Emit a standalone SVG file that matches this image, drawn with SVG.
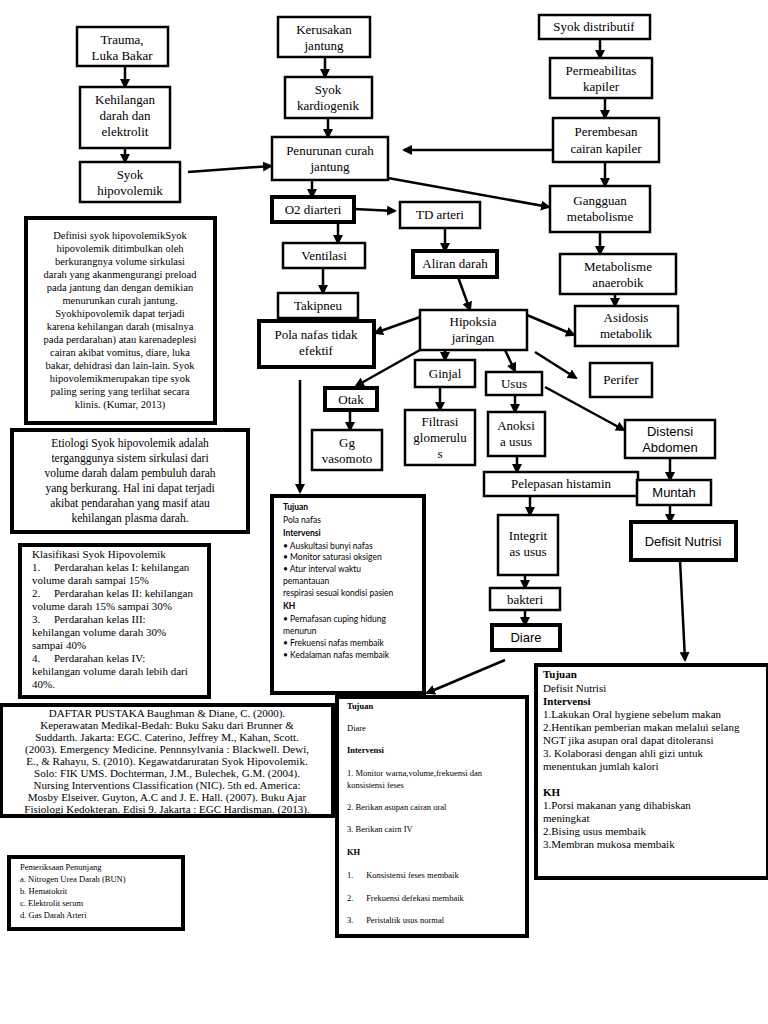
<svg xmlns="http://www.w3.org/2000/svg" width="768" height="1024" viewBox="0 0 768 1024">
<style>
.b{fill:#fff;stroke:#000;stroke-width:2.5}
.bb{fill:#fff;stroke:#000;stroke-width:4}
.t{font-family:"Liberation Serif",serif;font-size:13px;fill:#000;text-anchor:middle}
.s{font-family:"Liberation Sans",sans-serif;font-size:13px;fill:#000;text-anchor:middle}
.sm{font-family:"Liberation Serif",serif;font-size:10.5px;fill:#000;text-anchor:middle}
.l{font-family:"Liberation Serif",serif;font-size:11.5px;fill:#000;white-space:pre}
.c{font-family:Lato,sans-serif;font-size:8.5px;fill:#000}
.d{font-family:"Liberation Serif",serif;font-size:8.5px;fill:#000;white-space:pre}
.k{stroke:#000;stroke-width:2.5;fill:none;marker-end:url(#a)}
</style>
<defs><marker id="a" viewBox="0 0 10 10" refX="8" refY="5" markerWidth="4" markerHeight="4" orient="auto"><path d="M0,0L10,5L0,10z"/></marker>
<clipPath id="cp"><rect x="3" y="707" width="328" height="107"/></clipPath></defs>
<rect width="768" height="1024" fill="#fff"/>
<g id="connectors">
<line class="k" x1="125" y1="66" x2="125" y2="87"/>
<line class="k" x1="125" y1="148" x2="125" y2="162"/>
<line class="k" x1="188" y1="172" x2="271" y2="166"/>
<line class="k" x1="325" y1="57" x2="325" y2="77"/>
<line class="k" x1="328" y1="118" x2="328" y2="137"/>
<line class="k" x1="553" y1="150" x2="404" y2="150"/>
<line class="k" x1="600" y1="39" x2="600" y2="58"/>
<line class="k" x1="605" y1="98" x2="605" y2="118"/>
<line class="k" x1="388" y1="178" x2="549" y2="207"/>
<line class="k" x1="605" y1="162" x2="605" y2="186"/>
<line class="k" x1="600" y1="232" x2="600" y2="254"/>
<line class="k" x1="615" y1="294" x2="615" y2="306"/>
<line class="k" x1="312" y1="180" x2="312" y2="197"/>
<line class="k" x1="354" y1="209" x2="395" y2="211"/>
<line class="k" x1="338" y1="222" x2="338" y2="243"/>
<line class="k" x1="445" y1="228" x2="445" y2="251"/>
<line class="k" x1="323" y1="268" x2="323" y2="293"/>
<line class="k" x1="458" y1="277" x2="470" y2="310"/>
<line class="k" x1="420" y1="317" x2="375" y2="333"/>
<line class="k" x1="527" y1="315" x2="574" y2="335"/>
<line class="k" x1="445" y1="350" x2="445" y2="360"/>
<line class="k" x1="420" y1="350" x2="356" y2="386"/>
<line class="k" x1="505" y1="350" x2="515" y2="371"/>
<line class="k" x1="535" y1="352" x2="576" y2="378"/>
<line class="k" x1="545" y1="387" x2="624" y2="430"/>
<line class="k" x1="350" y1="410" x2="350" y2="430"/>
<line class="k" x1="440" y1="387" x2="440" y2="410"/>
<line class="k" x1="515" y1="395" x2="515" y2="412"/>
<line class="k" x1="517" y1="456" x2="517" y2="472"/>
<line class="k" x1="530" y1="496" x2="530" y2="515"/>
<line class="k" x1="525" y1="575" x2="525" y2="588"/>
<line class="k" x1="525" y1="610" x2="525" y2="625"/>
<line class="k" x1="505" y1="660" x2="427" y2="693"/>
<line class="k" x1="670" y1="458" x2="670" y2="480"/>
<line class="k" x1="670" y1="505" x2="670" y2="522"/>
<line class="k" x1="680" y1="560" x2="685" y2="660"/>
<line class="k" x1="300" y1="380" x2="300" y2="492"/>
</g>
<g id="trauma"><rect class="b" x="77" y="27" width="91" height="39"/><text class="t" x="122" y="44">Trauma,</text><text class="t" x="122" y="60">Luka Bakar</text></g>
<g id="kehilangan"><rect class="b" x="80" y="87" width="90" height="61"/><text class="t" x="125" y="104">Kehilangan</text><text class="t" x="125" y="120">darah dan</text><text class="t" x="125" y="136">elektrolit</text></g>
<g id="syokhipo"><rect class="b" x="80" y="162" width="100" height="40"/><text class="t" x="130" y="179">Syok</text><text class="t" x="130" y="195">hipovolemik</text></g>
<g id="kerusakan"><rect class="b" x="278" y="17" width="92" height="40"/><text class="t" x="324" y="34">Kerusakan</text><text class="t" x="324" y="50">jantung</text></g>
<g id="syokkardio"><rect class="b" x="285" y="77" width="87" height="41"/><text class="t" x="328" y="94">Syok</text><text class="t" x="328" y="110">kardiogenik</text></g>
<g id="penurunan"><rect class="b" x="272" y="137" width="116" height="43"/><text class="t" x="330" y="155">Penurunan curah</text><text class="t" x="330" y="171">jantung</text></g>
<g id="o2"><rect class="bb" x="272" y="197" width="82" height="25"/><text class="t" x="313" y="214">O2 diarteri</text></g>
<g id="td"><rect class="b" x="400" y="202" width="80" height="26"/><text class="t" x="440" y="219">TD arteri</text></g>
<g id="ventilasi"><rect class="b" x="283" y="243" width="82" height="25"/><text class="t" x="324" y="260">Ventilasi</text></g>
<g id="aliran"><rect class="bb" x="413" y="251" width="84" height="26"/><text class="t" x="455" y="268">Aliran darah</text></g>
<g id="takipneu"><rect class="b" x="278" y="293" width="80" height="25"/><text class="t" x="318" y="310">Takipneu</text></g>
<g id="pola"><rect class="bb" x="259" y="321" width="115" height="46"/><text class="t" x="316" y="339">Pola nafas tidak</text><text class="t" x="316" y="355">efektif</text></g>
<g id="hipoksia"><rect class="b" x="420" y="310" width="107" height="40"/><text class="t" x="473" y="326">Hipoksia</text><text class="t" x="473" y="342">jaringan</text></g>
<g id="ginjal"><rect class="b" x="415" y="360" width="60" height="27"/><text class="t" x="445" y="378">Ginjal</text></g>
<g id="usus"><rect class="b" x="486" y="372" width="56" height="23"/><text class="t" x="514" y="388">Usus</text></g>
<g id="perifer"><rect class="b" x="590" y="363" width="62" height="34"/><text class="t" x="621" y="384">Perifer</text></g>
<g id="otak"><rect class="bb" x="325" y="388" width="52" height="22"/><text class="t" x="351" y="404">Otak</text></g>
<g id="gg"><rect class="b" x="312" y="430" width="70" height="40"/><text class="t" x="347" y="447">Gg</text><text class="t" x="347" y="463">vasomoto</text></g>
<g id="filtrasi"><rect class="b" x="405" y="410" width="70" height="55"/><text class="t" x="440" y="426">Filtrasi</text><text class="t" x="440" y="442">glomerulu</text><text class="t" x="440" y="458">s</text></g>
<g id="anoksia"><rect class="b" x="488" y="412" width="57" height="44"/><text class="t" x="516" y="430">Anoksi</text><text class="t" x="516" y="446">a usus</text></g>
<g id="histamin"><rect class="b" x="484" y="472" width="154" height="24"/><text class="t" x="561" y="488">Pelepasan histamin</text></g>
<g id="integritas"><rect class="b" x="498" y="515" width="60" height="60"/><text class="t" x="528" y="540">Integrit</text><text class="t" x="528" y="556">as usus</text></g>
<g id="bakteri"><rect class="b" x="490" y="588" width="70" height="22"/><text class="t" x="525" y="604">bakteri</text></g>
<g id="diare"><rect class="bb" x="492" y="625" width="68" height="25"/><text class="s" x="526" y="642">Diare</text></g>
<g id="syokdist"><rect class="b" x="539" y="15" width="111" height="24"/><text class="t" x="594" y="31">Syok distributif</text></g>
<g id="permeabilitas"><rect class="b" x="550" y="58" width="102" height="40"/><text class="t" x="601" y="75">Permeabilitas</text><text class="t" x="601" y="91">kapiler</text></g>
<g id="perembesan"><rect class="b" x="553" y="118" width="106" height="44"/><text class="t" x="606" y="136">Perembesan</text><text class="t" x="606" y="153">cairan kapiler</text></g>
<g id="gangguan"><rect class="b" x="550" y="186" width="100" height="46"/><text class="t" x="600" y="205">Gangguan</text><text class="t" x="600" y="221">metabolisme</text></g>
<g id="metabolisme"><rect class="b" x="560" y="254" width="116" height="40"/><text class="t" x="618" y="271">Metabolisme</text><text class="t" x="618" y="287">anaerobik</text></g>
<g id="asidosis"><rect class="b" x="575" y="306" width="103" height="40"/><text class="t" x="626" y="322">Asidosis</text><text class="t" x="626" y="338">metabolik</text></g>
<g id="distensi"><rect class="b" x="625" y="420" width="90" height="38"/><text class="s" x="670" y="436">Distensi</text><text class="s" x="670" y="452">Abdomen</text></g>
<g id="muntah"><rect class="b" x="637" y="480" width="74" height="25"/><text class="s" x="674" y="497">Muntah</text></g>
<g id="defisit"><rect class="bb" x="631" y="522" width="105" height="38"/><text class="s" x="683" y="546">Defisit Nutrisi</text></g>
<g id="definisi"><rect class="bb" x="26" y="218" width="189" height="205"/>
<text class="sm"><tspan x="120" y="239">Definisi syok hipovolemikSyok</tspan><tspan x="120" y="252">hipovolemik ditimbulkan oleh</tspan><tspan x="120" y="265">berkurangnya volume sirkulasi</tspan><tspan x="120" y="278">darah yang akanmengurangi preload</tspan><tspan x="120" y="291">pada jantung dan dengan demikian</tspan><tspan x="120" y="304">menurunkan curah jantung.</tspan><tspan x="120" y="317">Syokhipovolemik dapat terjadi</tspan><tspan x="120" y="330">karena kehilangan darah (misalnya</tspan><tspan x="120" y="343">pada perdarahan) atau karenadeplesi</tspan><tspan x="120" y="356">cairan akibat vomitus, diare, luka</tspan><tspan x="120" y="369">bakar, dehidrasi dan lain-lain. Syok</tspan><tspan x="120" y="382">hipovolemikmerupakan tipe syok</tspan><tspan x="120" y="395">paling sering yang terlihat secara</tspan><tspan x="120" y="408">klinis. (Kumar, 2013)</tspan></text></g>
<g id="etiologi"><rect class="bb" x="12" y="430" width="236" height="102"/>
<text class="t" style="font-size:11.5px"><tspan x="130" y="447">Etiologi Syok hipovolemik adalah</tspan><tspan x="130" y="462">terganggunya sistem sirkulasi dari</tspan><tspan x="130" y="477">volume darah dalam pembuluh darah</tspan><tspan x="130" y="492">yang berkurang. Hal ini dapat terjadi</tspan><tspan x="130" y="507">akibat pendarahan yang masif atau</tspan><tspan x="130" y="522">kehilangan plasma darah.</tspan></text></g>
<g id="klasifikasi"><rect class="bb" x="20" y="545" width="189" height="152"/>
<text class="l" style="font-size:11px"><tspan x="32" y="558">Klasifikasi Syok Hipovolemik</tspan><tspan x="32" y="571">1.     Perdarahan kelas I: kehilangan</tspan><tspan x="32" y="584">volume darah sampai 15%</tspan><tspan x="32" y="597">2.     Perdarahan kelas II: kehilangan</tspan><tspan x="32" y="610">volume darah 15% sampai 30%</tspan><tspan x="32" y="623">3.     Perdarahan kelas III:</tspan><tspan x="32" y="636">kehilangan volume darah 30%</tspan><tspan x="32" y="649">sampai 40%</tspan><tspan x="32" y="662">4.     Perdarahan kelas IV:</tspan><tspan x="32" y="675">kehilangan volume darah lebih dari</tspan><tspan x="32" y="688">40%.</tspan></text></g>
<g id="daftar"><rect class="bb" x="1" y="705" width="332" height="111"/>
<text class="t" style="font-size:11px" clip-path="url(#cp)"><tspan x="167" y="717">DAFTAR PUSTAKA Baughman &amp; Diane, C. (2000).</tspan><tspan x="167" y="729">Keperawatan Medikal-Bedah: Buku Saku dari Brunner &amp;</tspan><tspan x="167" y="741">Suddarth. Jakarta: EGC. Caterino, Jeffrey M., Kahan, Scott.</tspan><tspan x="167" y="753">(2003). Emergency Medicine. Pennnsylvania : Blackwell. Dewi,</tspan><tspan x="167" y="765">E., &amp; Rahayu, S. (2010). Kegawatdaruratan Syok Hipovolemik.</tspan><tspan x="167" y="777">Solo: FIK UMS. Dochterman, J.M., Bulechek, G.M. (2004).</tspan><tspan x="167" y="789">Nursing Interventions Classification (NIC). 5th ed. America:</tspan><tspan x="167" y="801">Mosby Elseiver. Guyton, A.C and J. E. Hall. (2007). Buku Ajar</tspan><tspan x="167" y="813">Fisiologi Kedokteran. Edisi 9. Jakarta : EGC Hardisman. (2013).</tspan></text></g>
<g id="pemeriksaan"><rect class="bb" x="9" y="857" width="174" height="72"/>
<text class="d"><tspan x="20" y="870">Pemeriksaan Penunjang</tspan><tspan x="20" y="882">a. Nitrogen Urea Darah (BUN)</tspan><tspan x="20" y="894">b. Hematokrit</tspan><tspan x="20" y="906">c. Elektrolit serum</tspan><tspan x="20" y="918">d. Gas Darah Arteri</tspan></text></g>
<g id="polabox"><rect class="bb" x="272" y="496" width="152" height="197"/>
<text class="c"><tspan x="283" y="510" font-weight="bold">Tujuan</tspan><tspan x="283" y="523">Pola nafas</tspan><tspan x="283" y="536" font-weight="bold">Intervensi</tspan><tspan x="283" y="549">•  Auskultasi bunyi nafas</tspan><tspan x="283" y="560">•  Monitor saturasi oksigen</tspan><tspan x="283" y="572">•  Atur interval waktu</tspan><tspan x="283" y="584">pemantauan</tspan><tspan x="283" y="596">respirasi sesuai kondisi pasien</tspan><tspan x="283" y="609" font-weight="bold">KH</tspan><tspan x="283" y="622">•  Pernafasan cuping hidung</tspan><tspan x="283" y="634">menurun</tspan><tspan x="283" y="646">•  Frekuensi nafas membaik</tspan><tspan x="283" y="658">•  Kedalaman nafas membaik</tspan></text></g>
<g id="diarebox"><rect class="bb" x="337" y="697" width="190" height="239"/>
<text class="d"><tspan x="347" y="709" font-weight="bold">Tujuan</tspan><tspan x="347" y="731">Diare</tspan><tspan x="347" y="753" font-weight="bold">Intervensi</tspan><tspan x="347" y="776">1. Monitor warna,volume,frekuensi dan</tspan><tspan x="347" y="788">konsistensi feses</tspan><tspan x="347" y="810">2. Berikan asupan cairan oral</tspan><tspan x="347" y="832">3. Berikan cairn IV</tspan><tspan x="347" y="855" font-weight="bold">KH</tspan><tspan x="347" y="878">1.      Konsistensi feses membaik</tspan><tspan x="347" y="901">2.      Frekuensi defekasi membaik</tspan><tspan x="347" y="923">3.      Peristaltik usus normal</tspan></text></g>
<g id="defisitbox"><rect class="bb" x="536" y="665" width="232" height="213"/>
<text class="l" style="font-size:11px"><tspan x="543" y="678" font-weight="bold">Tujuan</tspan><tspan x="543" y="692">Defisit Nutrisi</tspan><tspan x="543" y="705" font-weight="bold">Intervensi</tspan><tspan x="543" y="718">1.Lakukan Oral hygiene sebelum makan</tspan><tspan x="543" y="731">2.Hentikan pemberian makan melalui selang</tspan><tspan x="543" y="744">NGT jika asupan oral dapat ditoleransi</tspan><tspan x="543" y="757">3. Kolaborasi dengan ahli gizi untuk</tspan><tspan x="543" y="770">menentukan jumlah kalori</tspan><tspan x="543" y="796" font-weight="bold">KH</tspan><tspan x="543" y="809">1.Porsi makanan yang dihabiskan</tspan><tspan x="543" y="822">meningkat</tspan><tspan x="543" y="835">2.Bising usus membaik</tspan><tspan x="543" y="848">3.Membran mukosa membaik</tspan></text></g>
</svg>
